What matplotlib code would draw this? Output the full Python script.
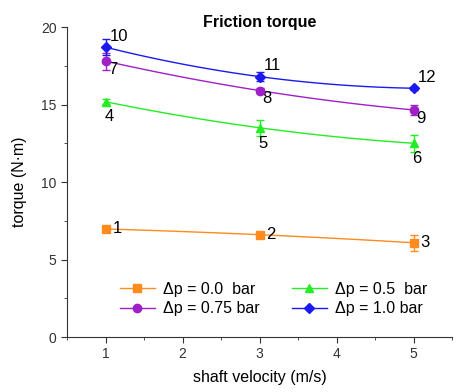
import numpy as np
import matplotlib.pyplot as plt
from matplotlib.ticker import MultipleLocator

plt.rcParams['font.family'] = ['Liberation Sans', 'DejaVu Sans']

# data
velocity = [1, 3, 5]
torque_00 = [6.97, 6.60, 6.08]
err_00 = [0.15, 0.10, 0.50]
torque_05 = [15.18, 13.50, 12.50]
err_05 = [0.15, 0.50, 0.55]
torque_075 = [17.80, 15.90, 14.65]
err_075 = [0.55, 0.15, 0.30]
torque_10 = [18.70, 16.80, 16.05]
err_10 = [0.50, 0.30, 0.10]
labels_00 = ['1', '2', '3']
labels_05 = ['4', '5', '6']
labels_075 = ['7', '8', '9']
labels_10 = ['10', '11', '12']

series = [
    (torque_00, err_00, labels_00, '#FF8A1E', 's', '\u0394p = 0.0  bar', (5, 0)),
    (torque_05, err_05, labels_05, '#22EE22', '^', '\u0394p = 0.5  bar', (-1, -11)),
    (torque_075, err_075, labels_075, '#A020C8', 'o', '\u0394p = 0.75 bar', (2, -6)),
    (torque_10, err_10, labels_10, '#1A1AF0', 'D', '\u0394p = 1.0 bar', (3, 8)),
]

fig = plt.figure(figsize=(4.74, 3.92), dpi=100)
ax = fig.add_axes([0.1414, 0.1403, 0.8122, 0.7908])

xs = np.linspace(1, 5, 100)
handles = {}
for y, e, labs, color, mk, name, off in series:
    # smooth connecting curve like Origin's spline
    coef = np.polyfit(velocity, y, 2)
    ax.plot(xs, np.polyval(coef, xs), color=color, linewidth=1.0, zorder=2)
    ax.errorbar(velocity, y, yerr=e, fmt='none', ecolor=color, elinewidth=1.0,
                capsize=3, capthick=1.0, zorder=3)
    ms = 5 if mk == 'D' else 6
    ax.plot(velocity, y, linestyle='none', marker=mk, markersize=ms, color=color, zorder=4)
    h, = ax.plot([], [], color=color, marker=mk, markersize=ms, linewidth=1.0, label=name)
    handles[name] = h
    for xv, yv, t in zip(velocity, y, labs):
        ax.annotate(t, (xv, yv), xytext=off, textcoords='offset points',
                    ha='left', va='center', fontsize=12, color='black')

ax.set_xlim(0.5, 5.5)
ax.set_ylim(0, 20)
ax.xaxis.set_major_locator(MultipleLocator(1))
ax.xaxis.set_minor_locator(MultipleLocator(0.5))
ax.yaxis.set_major_locator(MultipleLocator(5))
ax.yaxis.set_minor_locator(MultipleLocator(2.5))
ax.spines['top'].set_visible(False)
ax.spines['right'].set_visible(False)
for s in ['left', 'bottom']:
    ax.spines[s].set_color('#333333')
ax.tick_params(which='both', direction='out', colors='#333333', labelsize=10)
ax.tick_params(which='major', length=4)
ax.tick_params(which='minor', length=2.5)

ax.annotate('Friction torque', (0.5, 1.0), xycoords='axes fraction',
            xytext=(0, 3.5), textcoords='offset points', ha='center', va='center',
            fontsize=11.5, fontweight='bold')
ax.set_xlabel('shaft velocity (m/s)', fontsize=11.5, labelpad=6)
ax.set_ylabel('torque (N\u00b7m)', fontsize=11.5, labelpad=10)

# row-wise order: matplotlib fills legend columns first
order = [series[0][5], series[2][5], series[1][5], series[3][5]]
ax.legend(handles=[handles[k] for k in order], ncol=2, loc='lower center',
          bbox_to_anchor=(0.536, 0.02), frameon=False, fontsize=11.5,
          handlelength=2.2, columnspacing=2.0, labelspacing=0.3, handletextpad=0.5)

fig.savefig('out.png', dpi=100)
